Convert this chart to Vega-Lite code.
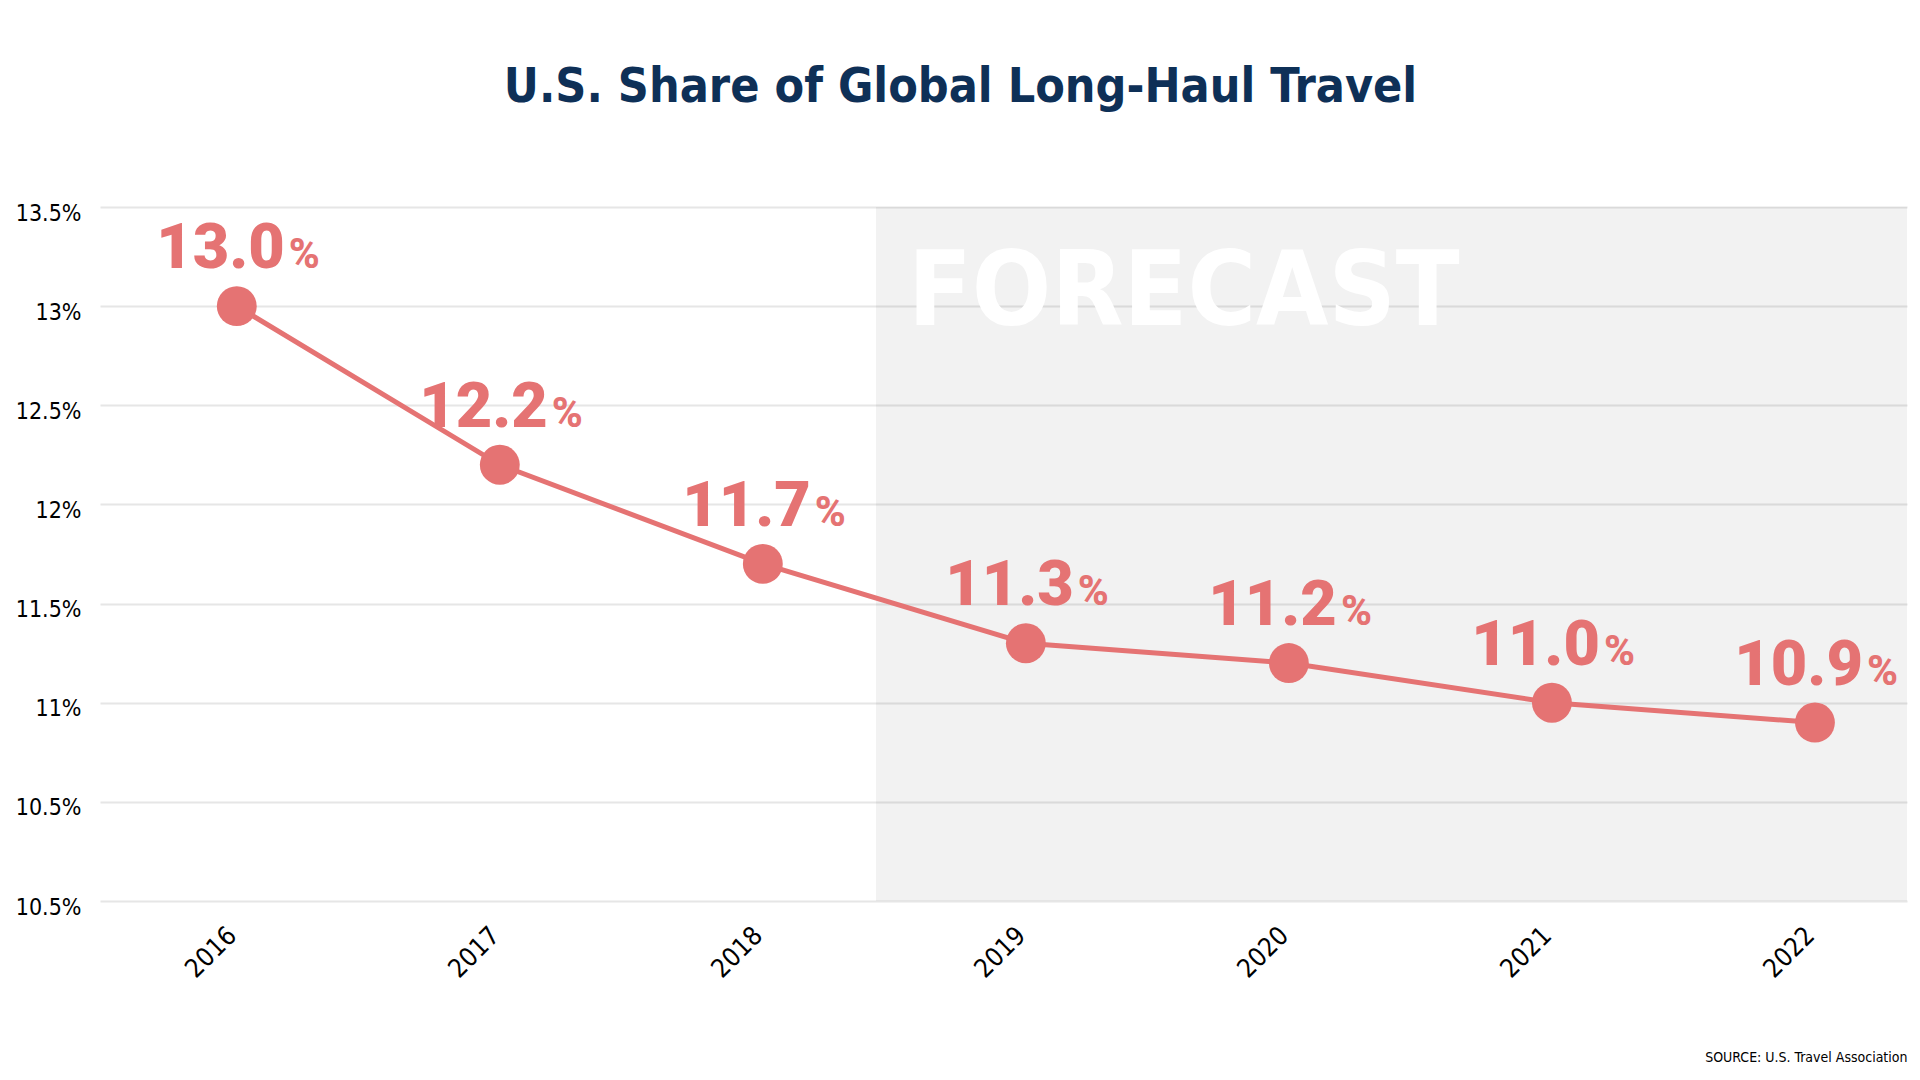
{
  "$schema": "https://vega.github.io/schema/vega-lite/v6.json",
  "autosize": "none",
  "width": 1807,
  "height": 694,
  "padding": {"left": 100, "top": 207, "right": 13, "bottom": 179},
  "background": "#ffffff",
  "config": {
    "view": {"stroke": null},
    "font": "Liberation Sans Narrow, DejaVu Sans Condensed, sans-serif"
  },
  "title": {
    "text": "U.S. Share of Global Long-Haul Travel",
    "font": "Liberation Sans Narrow, DejaVu Sans Condensed, sans-serif",
    "fontSize": 48,
    "fontWeight": "bold",
    "color": "#0e3057",
    "anchor": "middle",
    "frame": "group",
    "dx": -43,
    "baseline": "alphabetic",
    "offset": 52
  },
  "data": {
    "values": [
      {"year": 2016, "share": 13.0},
      {"year": 2017, "share": 12.2},
      {"year": 2018, "share": 11.7},
      {"year": 2019, "share": 11.3},
      {"year": 2020, "share": 11.2},
      {"year": 2021, "share": 11.0},
      {"year": 2022, "share": 10.9}
    ]
  },
  "encoding": {
    "x": {
      "field": "year",
      "type": "quantitative",
      "scale": {"domain": [2015.48, 2022.35], "nice": false, "zero": false},
      "axis": {
        "values": [2016, 2017, 2018, 2019, 2020, 2021, 2022],
        "format": "d",
        "labelAngle": -45,
        "labelAlign": "right",
        "labelBaseline": "middle",
        "labelFontSize": 26,
        "labelColor": "#000000",
        "labelPadding": 30,
        "labelOffset": -5,
        "labelFlush": false,
        "labelOverlap": false,
        "grid": false,
        "domain": false,
        "ticks": false,
        "title": "SOURCE: U.S. Travel Association",
        "titleFontSize": 14,
        "titleFontWeight": "normal",
        "titleColor": "#000000",
        "titleAnchor": "end",
        "titleAlign": "right",
        "titleBaseline": "alphabetic",
        "titleY": 160
      }
    },
    "y": {
      "field": "share",
      "type": "quantitative",
      "scale": {"domain": [10, 13.5], "nice": false, "zero": false},
      "axis": {
        "values": [10, 10.5, 11, 11.5, 12, 12.5, 13, 13.5],
        "labelExpr": "datum.value == 10 ? '10.5%' : datum.value + '%'",
        "labelFontSize": 23,
        "labelColor": "#000000",
        "labelPadding": 19,
        "labelBaseline": "middle",
        "labelOffset": 6,
        "grid": true,
        "gridColor": "#e6e6e6",
        "gridWidth": 2,
        "domain": false,
        "ticks": false,
        "title": null
      }
    }
  },
  "layer": [
    {
      "transform": [{"filter": "datum.year == 2019"}],
      "mark": {"type": "rect", "fill": "#000000", "fillOpacity": 0.051},
      "encoding": {
        "x": {"datum": 2018.43},
        "x2": {"datum": 2022.35},
        "y": {"datum": 13.5},
        "y2": {"datum": 10}
      }
    },
    {
      "transform": [{"filter": "datum.year == 2019"}],
      "mark": {
        "type": "text",
        "text": "FORECAST",
        "align": "left",
        "baseline": "alphabetic",
        "dx": 32,
        "dy": 118,
        "fontSize": 104,
        "fontWeight": "bold",
        "fill": "#ffffff"
      },
      "encoding": {
        "x": {"datum": 2018.43},
        "y": {"datum": 13.5}
      }
    },
    {
      "mark": {"type": "line", "color": "#e57373", "strokeWidth": 5}
    },
    {
      "mark": {"type": "point", "filled": true, "size": 1590, "color": "#e57373", "opacity": 1}
    },
    {
      "mark": {
        "type": "text",
        "align": "right",
        "baseline": "alphabetic",
        "dx": 48,
        "dy": -38,
        "font": "Roboto",
        "fontSize": 63,
        "fontWeight": 900,
        "color": "#e57373"
      },
      "encoding": {
        "text": {"field": "share", "type": "quantitative", "format": ".1f"}
      }
    },
    {
      "mark": {
        "type": "text",
        "text": "%",
        "align": "left",
        "baseline": "alphabetic",
        "dx": 52,
        "dy": -38,
        "font": "Roboto",
        "fontSize": 42,
        "fontWeight": 800,
        "color": "#e57373"
      }
    }
  ]
}
